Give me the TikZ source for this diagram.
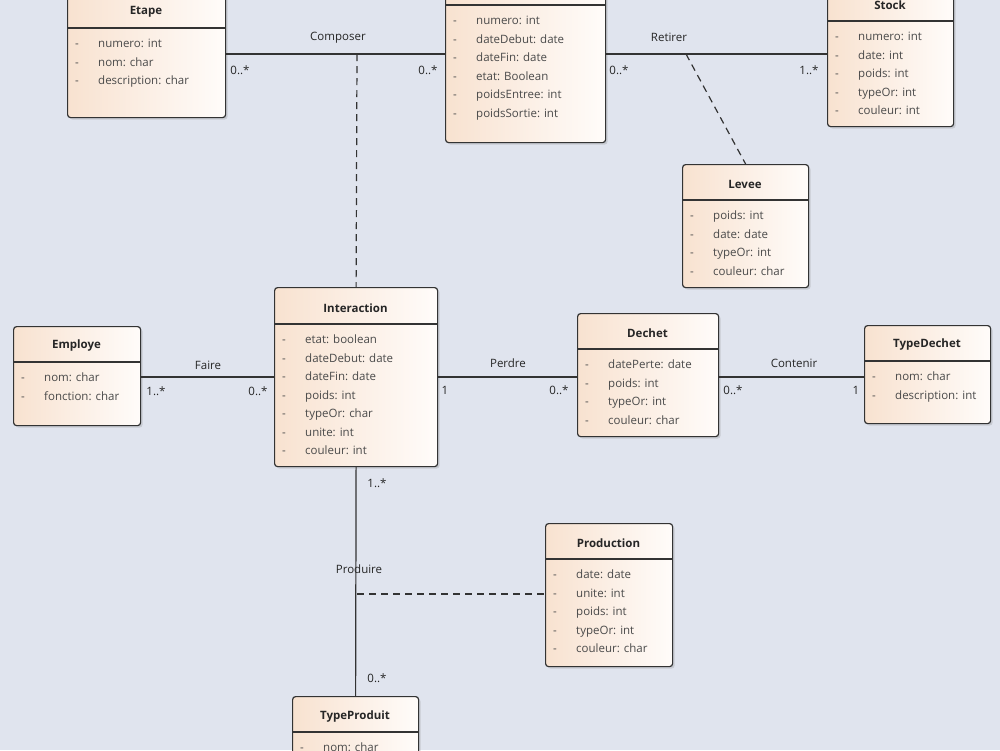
\documentclass[tikz,border=0pt]{standalone}
\usepackage{fontspec}
\setmainfont{Open Sans}
\usetikzlibrary{shadows}
\definecolor{bg}{HTML}{E0E4EE}
\definecolor{fl}{HTML}{F8E2D0}
\definecolor{fr}{HTML}{FFFCFA}
\definecolor{ln}{HTML}{333333}
\definecolor{tx}{HTML}{4A4A4A}
\tikzset{
  cls/.style={draw=ln,line width=1.2pt,rounded corners=3pt,left color=fl,right color=fr,drop shadow={shadow xshift=2pt,shadow yshift=-2pt,opacity=0.25},inner sep=0},
  assoc/.style={draw=ln,line width=1.2pt},
  dep/.style={draw=ln,line width=1.2pt,dash pattern=on 7pt off 5pt},
  lbl/.style={font=\fontsize{11.5}{13}\selectfont,text=black!85},
  attr/.style={font=\fontsize{11.5}{13}\selectfont,text=tx,anchor=base west,inner sep=0},
  ttl/.style={font=\fontsize{11.5}{13}\selectfont\bfseries,text=black!85}
}
\newcommand{\umlbox}[8]{%
  \node[cls,anchor=north west,minimum width=#4-#2,minimum height=#5-#3] (#1) at (#2,#3) {};
  \draw[ln,line width=1.2pt] (#2,#6) -- (#4,#6);
  \node[ttl] at ({(#2+#4)/2},#6-16) {#7};
  \foreach \a [count=\i from 0] in {#8} {
    \node[attr] at (#2+8,#6+19.5+18.5*\i) {-};
    \node[attr] at (#2+31,#6+19.5+18.5*\i) {\a};
  }
}
\begin{document}
\begin{tikzpicture}[x=1pt,y=-1pt]
\fill[bg] (0,0) rectangle (1000,750);
\useasboundingbox (0,0) rectangle (1000,750);
\umlbox{etape}{67}{-30}{225}{117}{28}{Etape}{numero: int,nom: char,description: char}
\umlbox{mid}{445}{-40}{605}{142}{5}{}{numero: int,dateDebut: date,dateFin: date,etat: Boolean,poidsEntree: int,poidsSortie: int}
\umlbox{stock}{827}{-30}{953}{126}{21}{Stock}{numero: int,date: int,poids: int,typeOr: int,couleur: int}
\umlbox{levee}{682}{164}{808}{287}{200}{Levee}{poids: int,date: date,typeOr: int,couleur: char}
\umlbox{inter}{274}{287}{437}{466}{324}{Interaction}{etat: boolean,dateDebut: date,dateFin: date,poids: int,typeOr: char,unite: int,couleur: int}
\umlbox{employe}{13}{326}{140}{425}{362}{Employe}{nom: char,fonction: char}
\umlbox{dechet}{577}{313}{718}{436}{349}{Dechet}{datePerte: date,poids: int,typeOr: int,couleur: char}
\umlbox{typedechet}{864}{325}{990}{423}{361}{TypeDechet}{nom: char,description: int}
\umlbox{production}{545}{523}{672}{666}{559}{Production}{date: date,unite: int,poids: int,typeOr: int,couleur: char}
\umlbox{typeproduit}{292}{696}{418}{790}{732}{TypeProduit}{nom: char}
% Composer
\coordinate (c1) at (357,54);
\draw[assoc] (etape.east|-c1) -- (mid.west|-c1);
\draw[dep] (c1) -- (inter.north);
\node[lbl] at (338,38) {Composer};
\node[lbl] at (240,70) {0..*};
\node[lbl] at (428,70) {0..*};
% Retirer
\coordinate (r1) at (686,54);
\draw[assoc] (mid.east|-r1) -- (stock.west|-r1);
\draw[dep] (r1) -- (levee.north);
\node[lbl] at (669,37) {Retirer};
\node[lbl] at (619,70) {0..*};
\node[lbl] at (809,70) {1..*};
% Faire
\coordinate (f1) at (200,377);
\draw[assoc] (employe.east|-f1) -- (inter.west|-f1);
\node[lbl] at (208,365) {Faire};
\node[lbl] at (156,391) {1..*};
\node[lbl] at (258,391) {0..*};
% Perdre
\draw[assoc] (inter.east|-f1) -- (dechet.west|-f1);
\node[lbl] at (508,363) {Perdre};
\node[lbl] at (445,390) {1};
\node[lbl] at (559,390) {0..*};
% Contenir
\draw[assoc] (dechet.east|-f1) -- (typedechet.west|-f1);
\node[lbl] at (794,363) {Contenir};
\node[lbl] at (733,390) {0..*};
\node[lbl] at (856,390) {1};
% Produire
\coordinate (p1) at (357,594);
\draw[assoc] (inter.south) -- (typeproduit.north);
\draw[dep] (p1) -- (production.west|-p1);
\node[lbl] at (359,569) {Produire};
\node[lbl] at (377,483) {1..*};
\node[lbl] at (377,678) {0..*};
\end{tikzpicture}
\end{document}
